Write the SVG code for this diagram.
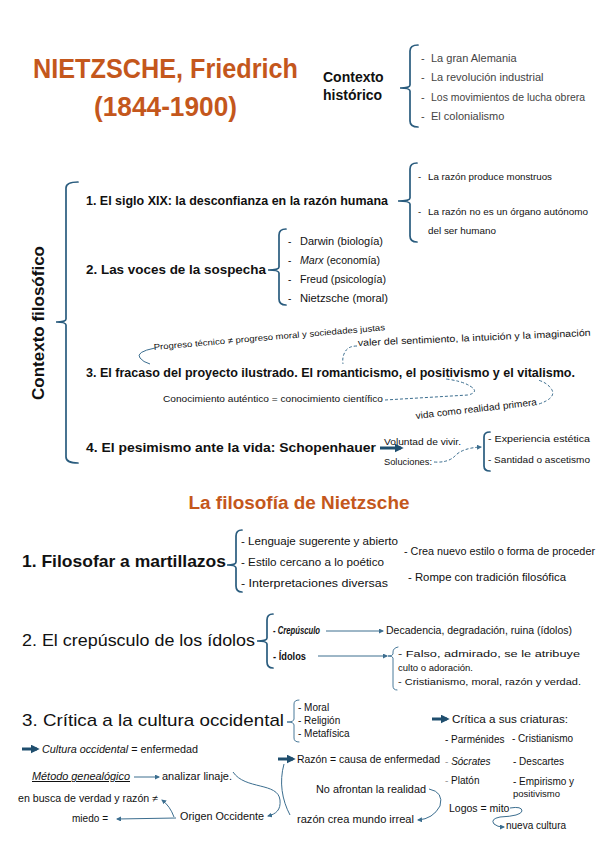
<svg xmlns="http://www.w3.org/2000/svg" width="599" height="848" viewBox="0 0 599 848">
<style>
text{font-family:"Liberation Sans",Arial,sans-serif;fill:#111}
.ti{fill:#C4571C;font-weight:bold}
.b{font-weight:bold}
.g{fill:#444;font-size:11px}
.s9{font-size:9.5px}
.s10{font-size:10px}
.s105{font-size:10.5px}
.br{fill:none;stroke:#2A5C7E;stroke-width:1.7;stroke-linecap:round}
.brt{fill:none;stroke:#4A7A9A;stroke-width:1;stroke-linecap:round}
.cn{fill:none;stroke:#3C6E8F;stroke-width:1}
.dash{stroke-dasharray:3 2}
.thick{fill:none;stroke:#1F4E6E;stroke-width:3}
</style>
<defs>
<marker id="ah" viewBox="0 0 10 10" refX="7" refY="5" markerWidth="9" markerHeight="9" markerUnits="userSpaceOnUse" orient="auto"><path d="M0,0 L10,5 L0,10 z" fill="#1F4E6E"/></marker>
<marker id="as" viewBox="0 0 10 10" refX="8" refY="5" markerWidth="5" markerHeight="5" markerUnits="userSpaceOnUse" orient="auto"><path d="M0,0 L10,5 L0,10 z" fill="#3C6E8F"/></marker>
</defs>

<g id="title">
<text class="ti" x="33" y="78" font-size="27" textLength="265" lengthAdjust="spacingAndGlyphs">NIETZSCHE, Friedrich</text>
<text class="ti" x="94" y="116" font-size="27" textLength="143" lengthAdjust="spacingAndGlyphs">(1844-1900)</text>
</g>

<g id="contexto-historico">
<text class="b" x="323" y="82" font-size="14">Contexto</text>
<text class="b" x="323" y="100" font-size="14">histórico</text>
<path class="br" d="M418,45 Q410,45 410,51 V85 Q410,88 400,88 Q410,88 410,91 V121 Q410,127 418,127"/>
<text class="g" x="421" y="62">-</text><text class="g" x="431" y="62">La gran Alemania</text>
<text class="g" x="421" y="81">-</text><text class="g" x="431" y="81">La revolución industrial</text>
<text class="g" x="421" y="101">-</text><text class="g" x="431" y="101" textLength="154" lengthAdjust="spacingAndGlyphs">Los movimientos de lucha obrera</text>
<text class="g" x="421" y="120">-</text><text class="g" x="431" y="120">El colonialismo</text>
</g>

<g id="contexto-filosofico">
<text class="b" transform="translate(44,323) rotate(-90)" text-anchor="middle" font-size="17" textLength="154" lengthAdjust="spacingAndGlyphs">Contexto filosófico</text>
<path class="br" d="M78,182 Q66,182 66,188 V319 Q66,322 56,322 Q66,322 66,325 V457 Q66,463 78,463"/>
</g>

<g id="item1">
<text class="b" x="86" y="205" font-size="12.5" textLength="302" lengthAdjust="spacingAndGlyphs">1. El siglo XIX: la desconfianza en la razón humana</text>
<path class="br" d="M417,163 Q410,163 410,169 V198 Q410,201 398,201 Q410,201 410,204 V236 Q410,242 417,242"/>
<text class="s9" x="418" y="180">-</text><text class="s9" x="428" y="180" textLength="124" lengthAdjust="spacingAndGlyphs">La razón produce monstruos</text>
<text class="s9" x="418" y="215">-</text><text class="s9" x="428" y="215" textLength="160" lengthAdjust="spacingAndGlyphs">La razón no es un órgano autónomo</text>
<text class="s9" x="428" y="234" textLength="68" lengthAdjust="spacingAndGlyphs">del ser humano</text>
</g>

<g id="item2">
<text class="b" x="86" y="274" font-size="13" textLength="180" lengthAdjust="spacingAndGlyphs">2. Las voces de la sospecha</text>
<path class="br" d="M286,229 Q279,229 279,235 V267 Q279,270 268,270 Q279,270 279,273 V299 Q279,305 286,305"/>
<text class="s10" x="288" y="245">-</text><text class="s10" x="300" y="245" textLength="83" lengthAdjust="spacingAndGlyphs">Darwin (biología)</text>
<text class="s10" x="288" y="264">-</text><text class="s10" x="300" y="264" textLength="80" lengthAdjust="spacingAndGlyphs"><tspan font-style="italic">Marx</tspan> (economía)</text>
<text class="s10" x="288" y="283">-</text><text class="s10" x="300" y="283" textLength="86" lengthAdjust="spacingAndGlyphs">Freud (psicología)</text>
<text class="s10" x="288" y="302">-</text><text class="s10" x="300" y="302" textLength="88" lengthAdjust="spacingAndGlyphs">Nietzsche (moral)</text>
</g>

<g id="item3">
<text class="b" x="86" y="377" font-size="12.5" textLength="489" lengthAdjust="spacingAndGlyphs">3. El fracaso del proyecto ilustrado. El romanticismo, el positivismo y el vitalismo.</text>
<text font-size="8.5" transform="translate(154,350) rotate(-4.9)" textLength="232" lengthAdjust="spacingAndGlyphs">Progreso técnico ≠ progreso moral y sociedades justas</text>
<text font-size="9.5" transform="translate(358,346) rotate(-2.5)" textLength="233" lengthAdjust="spacingAndGlyphs">valer del sentimiento, la intuición y la imaginación</text>
<text font-size="9" x="163" y="402" textLength="220" lengthAdjust="spacingAndGlyphs">Conocimiento auténtico = conocimiento científico</text>
<text font-size="9.5" transform="translate(416,419) rotate(-6.5)" textLength="122" lengthAdjust="spacingAndGlyphs">vida como realidad primera</text>
</g>

<g id="item4">
<text class="b" x="86" y="452" font-size="12.5" textLength="290" lengthAdjust="spacingAndGlyphs">4. El pesimismo ante la vida: Schopenhauer</text>
<text class="s9" x="384" y="445" textLength="77" lengthAdjust="spacingAndGlyphs">Voluntad de vivir.</text>
<text class="s9" x="384" y="465" textLength="48" lengthAdjust="spacingAndGlyphs">Soluciones:</text>
<path class="br" d="M490,432 Q484,432 484,437 V466 Q484,471 490,471"/>
<text class="s9" x="488" y="442" textLength="102" lengthAdjust="spacingAndGlyphs">- Experiencia estética</text>
<text class="s9" x="488" y="463" textLength="102" lengthAdjust="spacingAndGlyphs">- Santidad o ascetismo</text>
</g>

<g id="filosofia-title">
<text class="ti" x="299" y="509" font-size="18" text-anchor="middle" textLength="221" lengthAdjust="spacingAndGlyphs">La filosofía de Nietzsche</text>
</g>

<g id="martillazos">
<text class="b" x="22" y="567" font-size="17" textLength="204" lengthAdjust="spacingAndGlyphs">1. Filosofar a martillazos</text>
<path class="br" d="M242,530 Q236,530 236,536 V562 Q236,565 227,565 Q236,565 236,568 V586 Q236,592 242,592"/>
<text class="s105" x="241" y="545" textLength="157" lengthAdjust="spacingAndGlyphs">- Lenguaje sugerente y abierto</text>
<text class="s105" x="241" y="566" textLength="143" lengthAdjust="spacingAndGlyphs">- Estilo cercano a lo poético</text>
<text font-size="11" x="241" y="587" textLength="147" lengthAdjust="spacingAndGlyphs">- Interpretaciones diversas</text>
<text class="s10" x="404" y="555" textLength="191" lengthAdjust="spacingAndGlyphs">- Crea nuevo estilo o forma de proceder</text>
<text class="s10" x="408" y="581" textLength="158" lengthAdjust="spacingAndGlyphs">- Rompe con tradición filosófica</text>
</g>

<g id="crepusculo">
<text x="22" y="646" font-size="17" textLength="233" lengthAdjust="spacingAndGlyphs">2. El crepúsculo de los ídolos</text>
<path class="br" d="M273,614 Q267,614 267,620 V638 Q267,641 257,641 Q267,641 267,644 V662 Q267,668 273,668"/>
<text class="s10 b" x="273" y="634" textLength="47" lengthAdjust="spacingAndGlyphs">- <tspan font-style="italic">Crepúsculo</tspan></text>
<text class="s10" x="386" y="634" textLength="186" lengthAdjust="spacingAndGlyphs">Decadencia, degradación, ruina (ídolos)</text>
<text class="s10 b" x="273" y="660" textLength="33" lengthAdjust="spacingAndGlyphs">- Ídolos</text>
<path class="brt" d="M398,647 Q393,648 393,652 V654 Q393,656 388,656 Q393,656 393,658 V686 Q393,690 397,690"/>
<text class="s9" x="398" y="657" textLength="182" lengthAdjust="spacingAndGlyphs">- Falso, admirado, se le atribuye</text>
<text class="s9" x="398" y="671">culto o adoración.</text>
<text class="s9" x="398" y="685" textLength="183" lengthAdjust="spacingAndGlyphs">- Cristianismo, moral, razón y verdad.</text>
</g>

<g id="critica">
<text x="22" y="726" font-size="17" textLength="262" lengthAdjust="spacingAndGlyphs">3. Crítica a la cultura occidental</text>
<path class="brt" d="M299,700 Q294,700 294,704 V719 Q294,722 287,722 Q294,722 294,725 V738 Q294,742 299,742"/>
<text class="s10" x="298" y="711">- Moral</text>
<text class="s10" x="298" y="724">- Religión</text>
<text class="s10" x="298" y="737">- Metafísica</text>
<text font-size="11" x="452" y="723" textLength="116" lengthAdjust="spacingAndGlyphs">Crítica a sus criaturas:</text>
<text class="s10" x="445" y="743">- Parménides</text>
<text class="s10" x="512" y="742">- Cristianismo</text>
<text class="s10" x="445" y="765"><tspan fill="#999">-</tspan> <tspan font-style="italic">Sócrates</tspan></text>
<text class="s10" x="513" y="765">- Descartes</text>
<text class="s10" x="445" y="784"><tspan fill="#999">-</tspan> Platón</text>
<text class="s10" x="513" y="785">- Empirismo y</text>
<text class="s9" x="513" y="797">positivismo</text>
<text font-size="10.5" x="449" y="812">Logos = mito</text>
<text class="s10" x="506" y="829">nueva cultura</text>
<text font-size="10.5" x="297" y="763" textLength="143" lengthAdjust="spacingAndGlyphs">Razón = causa de enfermedad</text>
<text class="s10" x="316" y="793" textLength="110" lengthAdjust="spacingAndGlyphs">No afrontan la realidad</text>
<text class="s10" x="297" y="823" textLength="117" lengthAdjust="spacingAndGlyphs">razón crea mundo irreal</text>
<text class="s10" x="42" y="753" textLength="156" lengthAdjust="spacingAndGlyphs"><tspan font-style="italic">Cultura occidental</tspan> = enfermedad</text>
<text class="s10" x="32" y="780" font-style="italic" text-decoration="underline" textLength="98" lengthAdjust="spacingAndGlyphs">Método genealógico</text>
<text class="s10" x="162" y="780" textLength="70" lengthAdjust="spacingAndGlyphs">analizar linaje.</text>
<text class="s10" x="18" y="802" textLength="140" lengthAdjust="spacingAndGlyphs">en busca de verdad y razón ≠</text>
<text class="s10" x="72" y="822" textLength="36" lengthAdjust="spacingAndGlyphs">miedo =</text>
<text class="s10" x="180" y="820" textLength="84" lengthAdjust="spacingAndGlyphs">Origen Occidente</text>
</g>

<g id="connectors">
<path class="cn" d="M155,348 Q135,352 140,358 Q143,362 150,364"/>
<path class="cn dash" d="M357,346 Q348,346 345,352 Q342,357 343,364"/>
<path class="cn dash" d="M385,400 L468,395 Q480,392 470,386 Q462,381 446,379"/>
<path class="cn dash" d="M539,404 Q556,398 552,390 Q548,383 538,380"/>
<line class="thick" x1="380" y1="448" x2="401" y2="448" marker-end="url(#ah)"/>
<path class="cn dash" d="M434,462 Q448,463 455,456 Q462,448 481,447" marker-end="url(#as)"/>
<line class="cn" x1="326" y1="631" x2="383" y2="631" marker-end="url(#as)"/>
<line class="cn" x1="318" y1="656" x2="387" y2="656" marker-end="url(#as)"/>
<line class="thick" x1="432" y1="719" x2="447" y2="719" marker-end="url(#ah)"/>
<line class="thick" x1="22" y1="749" x2="37" y2="749" marker-end="url(#ah)"/>
<line class="cn" x1="134" y1="777" x2="159" y2="777" marker-end="url(#as)"/>
<line class="thick" x1="278" y1="759" x2="293" y2="759" marker-end="url(#ah)"/>
<path class="cn" d="M290,815 C282,800 279,782 284,764"/>
<path class="cn" d="M233,772 C245,790 278,782 280,800 C281,810 276,814 268,816" marker-end="url(#as)"/>
<path class="cn" d="M176,818 L117,819" marker-end="url(#as)"/>
<path class="cn" d="M174,817 Q170,806 162,800" marker-end="url(#as)"/>
<path class="cn" d="M429,789 Q444,792 440,806 Q433,819 418,820" marker-end="url(#as)"/>
<path class="cn" d="M510,808 Q522,806 522,811 Q521,816 500,817 Q490,819 494,824 Q497,827 504,827" marker-end="url(#as)"/>
</g>
</svg>
